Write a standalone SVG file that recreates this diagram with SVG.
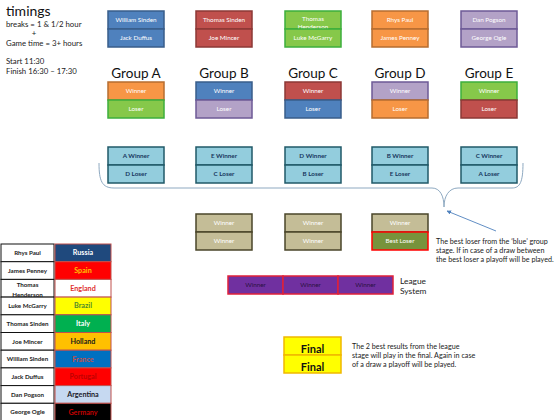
<svg xmlns="http://www.w3.org/2000/svg" width="560" height="420" viewBox="0 0 560 420">
<defs>
<style>
text{font-family:Lato,"Liberation Sans",sans-serif}
.c{font-size:6.3px;fill:#fff;text-anchor:middle}
.lb{font-size:6.3px;fill:#17375E;text-anchor:middle;font-weight:bold}
.g{font-size:13.5px;fill:#111;text-anchor:middle}
.t{font-size:7.8px;fill:#222}
.n{font-size:7.2px;fill:#222}
.nm{font-size:6.2px;fill:#222;text-anchor:middle;font-weight:bold}
.ct{font-size:7.2px;text-anchor:middle;font-weight:bold}
.bs{stroke-width:1.5}
.blue{fill:#4F81BD;stroke:#385D8A}
.red{fill:#C0504D;stroke:#8C3836}
.green{fill:#86C84A;stroke:#3DAF3D}
.orange{fill:#F79646;stroke:#B66D31}
.lav{fill:#B3A2C7;stroke:#6E5A96}
.lblue{fill:#93CDDD;stroke:#215968}
.tan{fill:#C4BD97;stroke:#4A452A}
.best{fill:#77933C;stroke:#FF0000}
.pur{fill:#7030A0;stroke:#E0203A}
.fin{fill:#FFFF00;stroke:#F0B800}
.name{fill:#fff;stroke:#111;stroke-width:1}
.cty{stroke:#C0504D;stroke-width:1}
</style>
<marker id="ah" viewBox="0 0 10 10" refX="9" refY="5" markerWidth="5" markerHeight="5" orient="auto"><path d="M0,0 L10,5 L0,10 z" fill="#4F81BD"/></marker>
<clipPath id="clipTop"><rect x="270" y="0" width="90" height="29"/></clipPath>
<clipPath id="clipTab"><rect x="0" y="279" width="56" height="18"/></clipPath>
</defs>
<rect width="560" height="420" fill="#fff"/>

<g id="timings">
<text x="6" y="16" style="font-size:14px;fill:#111">timings</text>
<text x="6" y="27" class="t">breaks =  1 &amp; 1/2 hour</text>
<text x="34" y="36" class="t" text-anchor="middle">+</text>
<text x="6" y="46" class="t">Game time =  3+ hours</text>
<text x="6" y="64" class="t">Start 11:30</text>
<text x="6" y="74" class="t">Finish 16:30 – 17:30</text>
</g>

<g id="players-A" class="bs">
<rect x="108" y="11" width="56" height="18" class="blue"/><rect x="108" y="29" width="56" height="18" class="blue"/>
<text x="136" y="22.2" class="c">William Sinden</text><text x="136" y="40.2" class="c">Jack Duffus</text>
</g>
<g id="players-B" class="bs">
<rect x="196" y="11" width="56" height="18" class="red"/><rect x="196" y="29" width="56" height="18" class="red"/>
<text x="224" y="22.2" class="c">Thomas Sinden</text><text x="224" y="40.2" class="c">Joe Mincer</text>
</g>
<g id="players-C" class="bs">
<rect x="285" y="11" width="56" height="18" class="green"/>
<text x="313" y="20.5" class="c">Thomas</text>
<text x="313" y="28.5" class="c" clip-path="url(#clipTop)">Henderson</text>
<rect x="285" y="29" width="56" height="18" class="green"/>
<text x="313" y="40.2" class="c">Luke McGarry</text>
</g>
<g id="players-D" class="bs">
<rect x="372" y="11" width="56" height="18" class="orange"/><rect x="372" y="29" width="56" height="18" class="orange"/>
<text x="400" y="22.2" class="c">Rhys Paul</text><text x="400" y="40.2" class="c">James Penney</text>
</g>
<g id="players-E" class="bs">
<rect x="461" y="11" width="56" height="18" class="lav"/><rect x="461" y="29" width="56" height="18" class="lav"/>
<text x="489" y="22.2" class="c">Dan Pogson</text><text x="489" y="40.2" class="c">George Ogle</text>
</g>

<g id="groupA" class="bs">
<text x="136" y="77.5" class="g">Group A</text>
<rect x="108" y="82" width="56" height="18" class="orange"/><rect x="108" y="100" width="56" height="18" class="green"/>
<text x="136" y="93.2" class="c">Winner</text><text x="136" y="111.2" class="c">Loser</text>
</g>
<g id="groupB" class="bs">
<text x="224" y="77.5" class="g">Group B</text>
<rect x="196" y="82" width="56" height="18" class="blue"/><rect x="196" y="100" width="56" height="18" class="lav"/>
<text x="224" y="93.2" class="c">Winner</text><text x="224" y="111.2" class="c">Loser</text>
</g>
<g id="groupC" class="bs">
<text x="313" y="77.5" class="g">Group C</text>
<rect x="285" y="82" width="56" height="18" class="red"/><rect x="285" y="100" width="56" height="18" class="blue"/>
<text x="313" y="93.2" class="c">Winner</text><text x="313" y="111.2" class="c">Loser</text>
</g>
<g id="groupD" class="bs">
<text x="400" y="77.5" class="g">Group D</text>
<rect x="372" y="82" width="56" height="18" class="lav"/><rect x="372" y="100" width="56" height="18" class="orange"/>
<text x="400" y="93.2" class="c">Winner</text><text x="400" y="111.2" class="c">Loser</text>
</g>
<g id="groupE" class="bs">
<text x="489" y="77.5" class="g">Group E</text>
<rect x="461" y="82" width="56" height="18" class="green"/><rect x="461" y="100" width="56" height="18" class="red"/>
<text x="489" y="93.2" class="c">Winner</text><text x="489" y="111.2" class="c">Loser</text>
</g>

<g id="match1" class="bs">
<rect x="108" y="147" width="56" height="18" class="lblue"/><rect x="108" y="165" width="56" height="18" class="lblue"/>
<text x="136" y="158.2" class="lb">A Winner</text><text x="136" y="176.2" class="lb">D Loser</text>
</g>
<g id="match2" class="bs">
<rect x="196" y="147" width="56" height="18" class="lblue"/><rect x="196" y="165" width="56" height="18" class="lblue"/>
<text x="224" y="158.2" class="lb">E Winner</text><text x="224" y="176.2" class="lb">C Loser</text>
</g>
<g id="match3" class="bs">
<rect x="285" y="147" width="56" height="18" class="lblue"/><rect x="285" y="165" width="56" height="18" class="lblue"/>
<text x="313" y="158.2" class="lb">D Winner</text><text x="313" y="176.2" class="lb">B Loser</text>
</g>
<g id="match4" class="bs">
<rect x="372" y="147" width="56" height="18" class="lblue"/><rect x="372" y="165" width="56" height="18" class="lblue"/>
<text x="400" y="158.2" class="lb">B Winner</text><text x="400" y="176.2" class="lb">E Loser</text>
</g>
<g id="match5" class="bs">
<rect x="461" y="147" width="56" height="18" class="lblue"/><rect x="461" y="165" width="56" height="18" class="lblue"/>
<text x="489" y="158.2" class="lb">C Winner</text><text x="489" y="176.2" class="lb">A Loser</text>
</g>

<g id="semi1" class="bs">
<rect x="196" y="214" width="56" height="18" class="tan"/><rect x="196" y="232" width="56" height="18" class="tan"/>
<text x="224" y="225.2" class="c">Winner</text><text x="224" y="243.2" class="c">Winner</text>
</g>
<g id="semi2" class="bs">
<rect x="285" y="214" width="56" height="18" class="tan"/><rect x="285" y="232" width="56" height="18" class="tan"/>
<text x="313" y="225.2" class="c">Winner</text><text x="313" y="243.2" class="c">Winner</text>
</g>
<g id="semi3" class="bs">
<rect x="372" y="214" width="56" height="18" class="tan"/><rect x="372" y="232" width="56" height="18" class="best"/>
<text x="400" y="225.2" class="c">Winner</text><text x="400" y="243.2" class="c">Best Loser</text>
</g>

<g id="best-loser-note">
<text x="436" y="243.5" class="n">The best loser from the ‘blue’ group</text>
<text x="436" y="252.5" class="n">stage. If in case of a draw between</text>
<text x="436" y="261.5" class="n">the best loser a playoff will be played.</text>
</g>

<g id="league" class="bs">
<rect x="228" y="276" width="55" height="18" class="pur"/><rect x="283" y="276" width="55" height="18" class="pur"/><rect x="338" y="276" width="55" height="18" class="pur"/>
<text x="255.5" y="287.2" class="c" style="fill:#2A1040">Winner</text>
<text x="310.5" y="287.2" class="c" style="fill:#2A1040">Winner</text>
<text x="365.5" y="287.2" class="c" style="fill:#2A1040">Winner</text>
<text x="400" y="283.5" style="font-size:8.4px;fill:#222">League</text>
<text x="400" y="293.5" style="font-size:8.4px;fill:#222">System</text>
</g>

<g id="final" class="bs">
<rect x="284" y="337" width="57" height="18" class="fin"/><rect x="284" y="355" width="57" height="18" class="fin"/>
<text x="312.5" y="353" style="font-size:11px;font-weight:bold;fill:#111;text-anchor:middle">Final</text>
<text x="312.5" y="370.5" style="font-size:11px;font-weight:bold;fill:#111;text-anchor:middle">Final</text>
</g>
<g id="final-note">
<text x="352" y="349" class="n">The 2 best results from the league</text>
<text x="352" y="358" class="n">stage will play in the final. Again in case</text>
<text x="352" y="367" class="n">of a draw a playoff will be played.</text>
</g>

<g id="table">
<rect x="1" y="244" width="53" height="17.7" class="name"/><text x="27.5" y="255" class="nm">Rhys Paul</text>
<rect x="55" y="244" width="56" height="17.7" class="cty" fill="#1F497D"/><text x="83" y="255.3" class="ct" fill="#fff">Russia</text>

<rect x="1" y="261.7" width="53" height="17.7" class="name"/><text x="27.5" y="272.7" class="nm">James Penney</text>
<rect x="55" y="261.7" width="56" height="17.7" class="cty" fill="#FF0000" stroke="#FFC000"/><text x="83" y="273" class="ct" fill="#FFC000">Spain</text>

<rect x="1" y="279.4" width="53" height="17.7" class="name"/><text x="27.5" y="286.6" class="nm">Thomas</text>
<text x="27.5" y="296.8" class="nm" clip-path="url(#clipTab)">Henderson</text>
<rect x="55" y="279.4" width="56" height="17.7" class="cty" fill="#FFFFFF"/><text x="83" y="290.7" class="ct" fill="#E03030">England</text>

<rect x="1" y="297.1" width="53" height="17.7" class="name"/><text x="27.5" y="308.1" class="nm">Luke McGarry</text>
<rect x="55" y="297.1" width="56" height="17.7" class="cty" fill="#FFFF00" stroke="#E6C800"/><text x="83" y="308.4" class="ct" fill="#4E8A2E">Brazil</text>

<rect x="1" y="314.8" width="53" height="17.7" class="name"/><text x="27.5" y="325.8" class="nm">Thomas Sinden</text>
<rect x="55" y="314.8" width="56" height="17.7" class="cty" fill="#00B050"/><text x="83" y="326.1" class="ct" fill="#fff">Italy</text>

<rect x="1" y="332.5" width="53" height="17.7" class="name"/><text x="27.5" y="343.5" class="nm">Joe Mincer</text>
<rect x="55" y="332.5" width="56" height="17.7" class="cty" fill="#FFC000"/><text x="83" y="343.8" class="ct" fill="#1a1a1a">Holland</text>

<rect x="1" y="350.2" width="53" height="17.7" class="name"/><text x="27.5" y="361.2" class="nm">William Sinden</text>
<rect x="55" y="350.2" width="56" height="17.7" class="cty" fill="#0070C0"/><text x="83" y="361.5" class="ct" fill="#C0504D">France</text>

<rect x="1" y="367.9" width="53" height="17.7" class="name"/><text x="27.5" y="378.9" class="nm">Jack Duffus</text>
<rect x="55" y="367.9" width="56" height="17.7" class="cty" fill="#FF0000"/><text x="83" y="379.2" class="ct" fill="#C00000">Portugal</text>

<rect x="1" y="385.6" width="53" height="17.7" class="name"/><text x="27.5" y="396.6" class="nm">Dan Pogson</text>
<rect x="55" y="385.6" width="56" height="17.7" class="cty" fill="#C6D9F1"/><text x="83" y="396.9" class="ct" fill="#1a1a2a">Argentina</text>

<rect x="1" y="403.3" width="53" height="17.7" class="name"/><text x="27.5" y="414.3" class="nm">George Ogle</text>
<rect x="55" y="403.3" width="56" height="17.7" class="cty" fill="#000000" stroke="#FFC000"/><text x="83" y="414.6" class="ct" fill="#C00000">Germany</text>
</g>

<g id="connectors" fill="none">
<path d="M99,163 C99,181 102,188 114,188 L432,188 C440,188 444,196 444,207 C444,196 449,188 458,188 L512,188 C520,188 523,182 523,163" stroke="#8EA9C1" stroke-width="1"/>
<line x1="496" y1="231" x2="447" y2="211" stroke="#4F81BD" stroke-width="0.9" marker-end="url(#ah)"/>
</g>
</svg>
